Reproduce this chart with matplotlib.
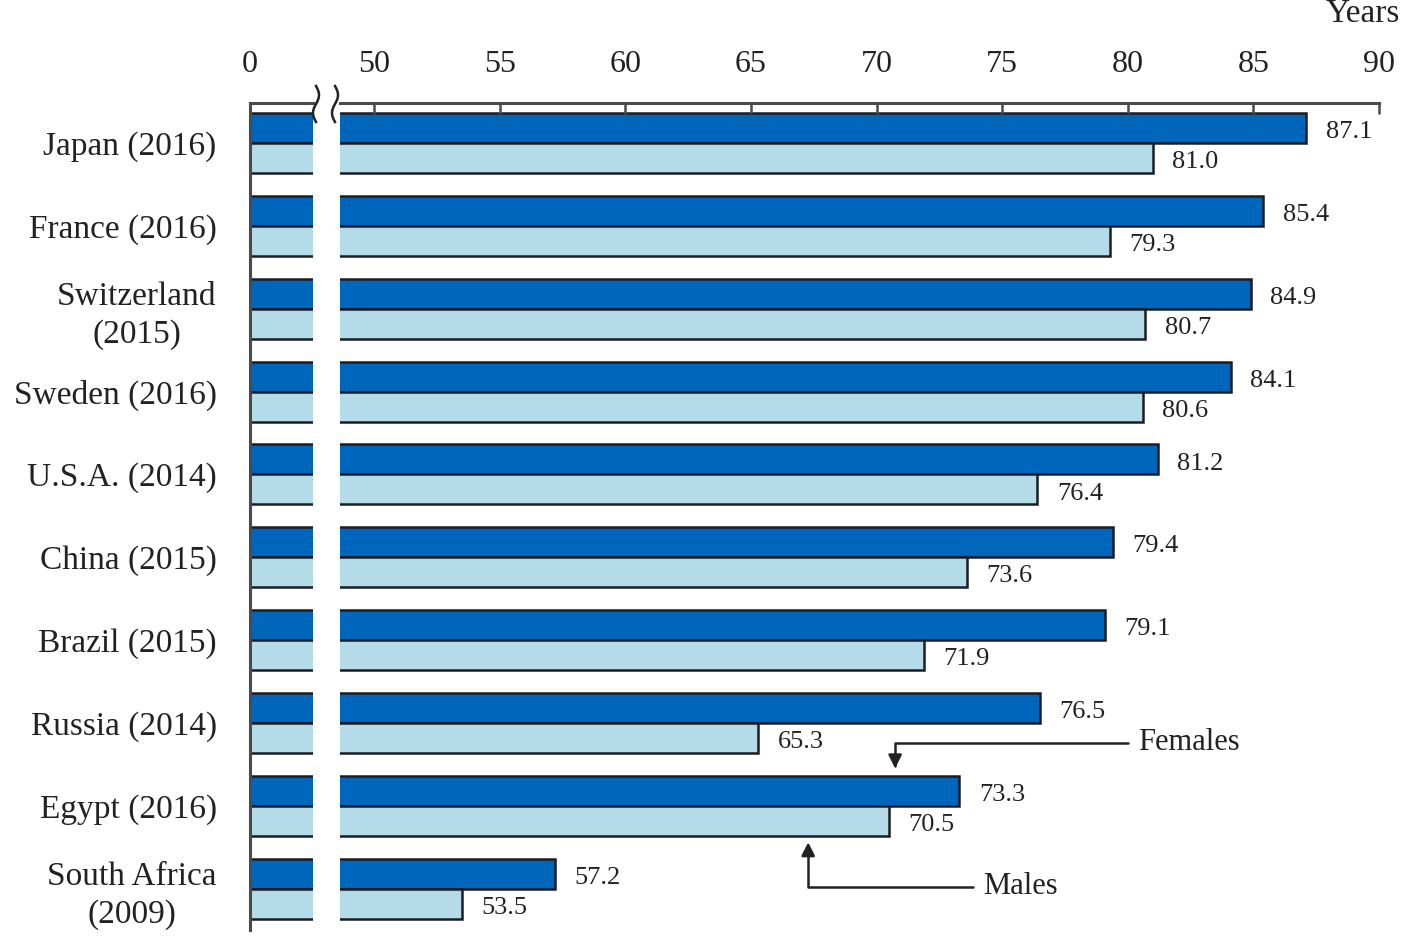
#!/usr/bin/env python3
"""Life expectancy at birth by country, broken-axis bar chart"""

import matplotlib
matplotlib.use("Agg")
import matplotlib.pyplot as plt
import numpy as np
from matplotlib.lines import Line2D

countries = ["Japan (2016)", "France (2016)", "Switzerland\n(2015)",
             "Sweden (2016)", "U.S.A. (2014)", "China (2015)",
             "Brazil (2015)", "Russia (2014)", "Egypt (2016)",
             "South Africa\n(2009)"]
females = [87.1, 85.4, 84.9, 84.1, 81.2, 79.4, 79.1, 76.5, 73.3, 57.2]
males = [81.0, 79.3, 80.7, 80.6, 76.4, 73.6, 71.9, 65.3, 70.5, 53.5]
right_ticks = [50, 55, 60, 65, 70, 75, 80, 85, 90]

DARK = "#0066BB"
LIGHT = "#B4DCE8"
EDGE = "#1c1c24"
SPINE = "#4a4a4a"
TEXT = "#222222"

W, H = 1422, 944


def fx(px):
    return px / W


def fy(py):
    return 1 - py / H


def main():
    plt.rcParams["font.family"] = ["Liberation Serif", "DejaVu Serif"]
    plt.rcParams["text.color"] = TEXT
    plt.rcParams["xtick.color"] = SPINE
    plt.rcParams["xtick.labelcolor"] = TEXT
    plt.rcParams["ytick.labelcolor"] = TEXT

    fig = plt.figure(figsize=(W / 100, H / 100), dpi=100)
    bottom, top = fy(930), fy(103)
    ax_l = fig.add_axes([fx(250), bottom, fx(313 - 250), top - bottom])
    ax_r = fig.add_axes([fx(340), bottom, fx(1379 - 340), top - bottom])

    y = np.arange(len(countries))
    h = 0.362
    for ax in (ax_l, ax_r):
        ax.barh(y - h / 2, females, height=h, color=DARK,
                edgecolor=EDGE, linewidth=1.8)
        ax.barh(y + h / 2, males, height=h, color=LIGHT,
                edgecolor=EDGE, linewidth=1.8)
        ax.set_ylim(9.5, -0.483)
        ax.xaxis.tick_top()
        ax.tick_params(axis="x", direction="in", length=8, width=1.8,
                       pad=17, labelsize=23)
        for side in ("right", "bottom"):
            ax.spines[side].set_visible(False)
        ax.spines["top"].set_color(SPINE)
        ax.spines["top"].set_linewidth(2.2)

    # left stub of the broken axis
    ax_l.set_xlim(0, 2.5)
    ax_l.set_xticks([0])
    ax_l.set_yticks(y)
    ax_l.set_yticklabels(countries, fontsize=24, linespacing=1.3)
    ax_l.tick_params(axis="y", length=0, pad=24)
    for lab in ax_l.get_yticklabels():
        lab.set_multialignment("center")
    ax_l.spines["left"].set_color(SPINE)
    ax_l.spines["left"].set_linewidth(2.2)

    # main part of the axis
    ax_r.set_xlim(48.645, 90)
    ax_r.set_xticks(right_ticks)
    ax_r.set_yticks([])
    ax_r.spines["left"].set_visible(False)

    for i in range(len(countries)):
        ax_r.annotate("{0:.1f}".format(females[i]), xy=(females[i], y[i] - h / 2),
                      xytext=(14, -3), textcoords="offset points",
                      va="center", ha="left", fontsize=19)
        ax_r.annotate("{0:.1f}".format(males[i]), xy=(males[i], y[i] + h / 2),
                      xytext=(14, -3), textcoords="offset points",
                      va="center", ha="left", fontsize=19)

    arrow = dict(arrowstyle="-|>", connectionstyle="angle,angleA=0,angleB=90,rad=0",
                 color=TEXT, lw=1.8, shrinkA=5, shrinkB=0, mutation_scale=20)
    ax_r.annotate("Females", xy=(70.74, 7.55), xytext=(80.41, 7.24),
                  va="center", ha="left", fontsize=22, arrowprops=arrow)
    ax_r.annotate("Males", xy=(67.28, 8.44), xytext=(74.24, 8.98),
                  va="center", ha="left", fontsize=22, arrowprops=arrow)

    fig.text(fx(1363), fy(22), "Years", ha="center", va="baseline", fontsize=24)

    # wavy break marks on the top axis
    t = np.linspace(0, 1, 40)
    for x0 in (316, 335):
        xs = fx(x0 + 3 * np.sin(2 * np.pi * t))
        ys = fy(86 + 36 * t)
        fig.add_artist(Line2D(xs, ys, transform=fig.transFigure,
                              color=TEXT, lw=1.8))

    fig.savefig("out.png", dpi=100)


if __name__ == "__main__":
    main()
